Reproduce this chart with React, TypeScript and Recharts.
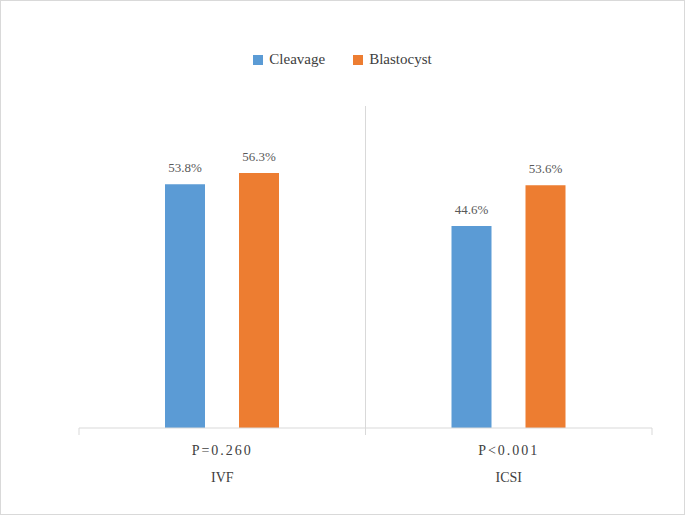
import React from "react";
import { BarChart, Bar, XAxis, YAxis, LabelList } from "recharts";

const categories = ["IVF", "ICSI"];
const pLabels = ["P=0.260", "P<0.001"];
const cleavage = [53.8, 44.6];
const blastocyst = [56.3, 53.6];
const seriesNames = ["Cleavage", "Blastocyst"];
const seriesColors = ["#5B9BD5", "#ED7D31"];

const data = categories.map((c, i) => ({ name: c, p: pLabels[i], cleavage: cleavage[i], blastocyst: blastocyst[i] }));

const W = 685, H = 515, ML = 79, MR = 33, MT = 111, MB = 87, AXH = 60;
const band = (W - ML - MR) / categories.length;
const font = "'Liberation Serif', 'DejaVu Serif', serif";

const Tick = (props: any) => {
  const { x, y, payload, index } = props;
  const left = x - band / 2;
  const i = index ?? 0;
  const base = H - MB - 1;
  return (
    <g>
      <line x1={left} x2={left} y1={i === 0 ? base : 105} y2={base + 7} stroke="#d9d9d9" />
      {i === categories.length - 1 && (
        <line x1={x + band / 2} x2={x + band / 2} y1={base} y2={base + 7} stroke="#d9d9d9" />
      )}
      <text x={x} y={base + 27} textAnchor="middle" fill="#404040" fontSize={14} fontFamily={font} letterSpacing={2}>
        {data[i]?.p}
      </text>
      <text x={x} y={base + 54} textAnchor="middle" fill="#404040" fontSize={14} fontFamily={font}>
        {payload.value}
      </text>
    </g>
  );
};

export default function App() {
  return (
    <div style={{ position: "absolute", left: 0, top: 0, width: W, height: H, boxSizing: "border-box", border: "1px solid #d9d9d9", background: "#fff" }}>
      <div style={{ position: "absolute", top: 50, left: 0, width: W - 2, display: "flex", justifyContent: "center", gap: 28, fontFamily: font, fontSize: 15, color: "#404040" }}>
        {seriesNames.map((n, i) => (
          <span key={n} style={{ display: "flex", alignItems: "center" }}>
            <span style={{ width: 10, height: 10, background: seriesColors[i], marginRight: 6, display: "inline-block" }} />
            {n}
          </span>
        ))}
      </div>
      <BarChart width={W - 2} height={H - 2} data={data} margin={{ top: MT - 1, right: MR - 1, bottom: MB - 1 - AXH, left: ML - 1 }} barGap={34} barCategoryGap="30%">
        <XAxis dataKey="name" height={AXH} axisLine={{ stroke: "#d9d9d9" }} tickLine={false} tick={<Tick />} interval={0} />
        <YAxis hide domain={[0, 70]} />
        <Bar dataKey="cleavage" name="Cleavage" fill={seriesColors[0]} barSize={40} isAnimationActive={false}>
          <LabelList dataKey="cleavage" position="top" offset={12} formatter={(v: any) => `${v}%`} fill="#595959" fontSize={13} fontFamily={font} />
        </Bar>
        <Bar dataKey="blastocyst" name="Blastocyst" fill={seriesColors[1]} barSize={40} isAnimationActive={false}>
          <LabelList dataKey="blastocyst" position="top" offset={12} formatter={(v: any) => `${v}%`} fill="#595959" fontSize={13} fontFamily={font} />
        </Bar>
      </BarChart>
    </div>
  );
}
